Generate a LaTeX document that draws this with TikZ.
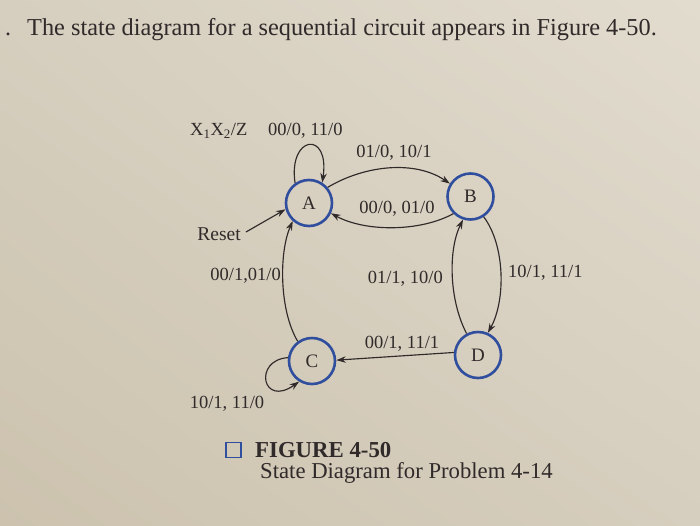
\documentclass[tikz,border=0pt]{standalone}
\usepackage{fontspec}
\setmainfont{Liberation Serif}
\usetikzlibrary{arrows.meta,shadings}
\definecolor{paperUL}{RGB}{214,207,191}
\definecolor{paperUR}{RGB}{226,220,207}
\definecolor{paperLL}{RGB}{204,194,174}
\definecolor{paperLR}{RGB}{214,206,190}
\definecolor{ink}{RGB}{48,42,42}
\definecolor{stateblue}{RGB}{48,78,158}
\begin{document}
\begin{tikzpicture}[x=1pt,y=-1pt,
  state/.style={circle,draw=stateblue,line width=2.6pt,minimum size=46pt,inner sep=0pt,
    font=\fontsize{19}{22}\selectfont,text=ink},
  lbl/.style={font=\fontsize{18.5}{22}\selectfont,text=ink,inner sep=0pt},
  edge/.style={draw=ink,line width=1.15pt,-{Stealth[length=9.5pt,width=6.5pt]}}]
\shade[upper left=paperUL,upper right=paperUR,lower left=paperLL,lower right=paperLR]
  (0,0) rectangle (700,525);
\useasboundingbox (0,0) rectangle (700,525);

% heading
\node[anchor=base west,font=\fontsize{24}{28}\selectfont,text=ink,inner sep=0pt] (dot) at (5,35) {.};
\node[anchor=base west,font=\fontsize{24.3}{28}\selectfont,text=ink,inner sep=0pt] (title) at (27,35)
  {The state diagram for a sequential circuit appears in Figure 4-50.};

% states
\node[state] (A) at (309,203) {A};
\node[state] (B) at (470.5,196.5) {B};
\node[state] (C) at (312,361) {C};
\node[state] (D) at (478,355) {D};

% labels
\node[lbl,anchor=west] (key) at (190,131) {X\textsubscript{1}X\textsubscript{2}/Z};
\node[lbl,anchor=west] (lA) at (268,131) {00/0, 11/0};
\node[lbl] (lAB) at (394,153) {01/0, 10/1};
\node[lbl] (lBA) at (397,209) {00/0, 01/0};
\node[lbl,anchor=east,font=\fontsize{19.5}{22}\selectfont] (reset) at (241,234) {Reset};
\node[lbl,anchor=east] (lCA) at (281,276) {00/1,01/0};
\node[lbl,anchor=east] (lDB) at (443,279) {01/1, 10/0};
\node[lbl,anchor=west] (lBD) at (508,273) {10/1, 11/1};
\node[lbl] (lDC) at (402,344) {00/1, 11/1};
\node[lbl] (lC) at (227,404) {10/1, 11/0};

% transitions
\draw[edge] (A.125) .. controls (288,135) and (330,130) .. (A.57);
\draw[edge] (A.40) .. controls (365,165) and (415,160) .. (B.148);
\draw[edge] (B.225) .. controls (420,232) and (365,232) .. (A.335);
\draw[edge] ([xshift=5pt,yshift=2pt]reset.east) -- (A.195);
\draw[edge] (C.126) .. controls (279,310) and (279,252) .. (A.228);
\draw[edge] (D.118) .. controls (449,300) and (448,250) .. (B.252);
\draw[edge] (B.303) .. controls (505,245) and (506,300) .. (D.66);
\draw[edge] (D.174) -- (C.2);
\draw[edge] (C.172) .. controls (253,360) and (262,408) .. (C.238);

% caption
\node[draw=stateblue,line width=1.8pt,minimum size=15pt,inner sep=0pt] (box) at (233.5,450) {};
\node[anchor=base west,font=\bfseries\fontsize{22.8}{26}\selectfont,text=ink,inner sep=0pt] (fig) at (255,457) {FIGURE 4-50};
\node[anchor=base west,font=\fontsize{22.7}{26}\selectfont,text=ink,inner sep=0pt] (cap) at (260,478) {State Diagram for Problem 4-14};
\end{tikzpicture}
\end{document}
